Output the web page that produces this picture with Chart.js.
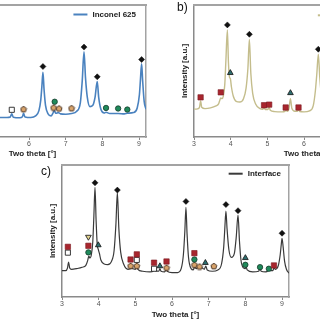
<!DOCTYPE html>
<html>
<head>
<meta charset="utf-8">
<script src="https://cdn.jsdelivr.net/npm/chart.js@4.4.1/dist/chart.umd.min.js"></script>
<style>
  html, body { margin: 0; padding: 0; background: #fff; }
  #wrap { position: relative; width: 320px; height: 320px; overflow: hidden; background: #fff; }
  canvas { position: absolute; }
  .lbl { position: absolute; font-family: "Liberation Sans", Arial, sans-serif; font-size: 12px; color: #111; line-height: 12px; }
</style>
</head>
<body>
<div id="wrap">
  <canvas id="ca" width="320" height="160" style="left:-143px; top:0px; width:320px; height:160px;"></canvas>
  <canvas id="cb" width="320" height="160" style="left:132px; top:0px; width:320px; height:160px;"></canvas>
  <canvas id="cc" width="320" height="160" style="left:0px; top:160px; width:320px; height:160px;"></canvas>
  <div class="lbl" style="left:177px; top:1px;">b)</div>
  <div class="lbl" style="left:41px; top:165px;">c)</div>
</div>
<script>
// ---------- DATA ----------
const xTicks = [3, 4, 5, 6, 7, 8, 9];
const seriesLabels = ['Inconel 625', '316L stainless steel', 'Interface'];

// Panel a (Inconel 625) trace, visible part
const aX = [5.10, 5.20, 5.40, 5.49, 5.53, 5.57, 5.75, 5.82, 5.85, 5.89, 6.05, 6.18, 6.27, 6.32, 6.35, 6.38, 6.41, 6.45, 6.52, 6.60, 6.66, 6.69, 6.73, 6.80, 6.86, 7.00, 7.16, 7.30, 7.40, 7.45, 7.50, 7.54, 7.59, 7.66, 7.74, 7.80, 7.86, 7.90, 7.96, 8.05, 8.10, 8.20, 8.43, 8.60, 8.68, 8.85, 8.95, 9.01, 9.04, 9.07, 9.10, 9.14, 9.19];
const aY = [15.0, 14.8, 14.8, 15.2, 17.6, 15.0, 14.6, 15.3, 17.9, 15.2, 14.8, 16.0, 20.0, 28.0, 38.0, 49.0, 36.0, 24.0, 17.5, 16.0, 18.5, 20.0, 18.0, 18.5, 17.5, 17.2, 17.8, 19.5, 26.0, 42.0, 64.5, 45.0, 30.0, 23.0, 24.0, 30.0, 42.0, 30.0, 21.0, 18.2, 18.8, 17.8, 17.8, 17.5, 18.0, 18.5, 22.0, 32.0, 44.0, 55.4, 42.0, 27.0, 21.0];

// Panel b trace, visible part
const bX = [3.00, 3.10, 3.15, 3.18, 3.21, 3.30, 3.45, 3.60, 3.67, 3.70, 3.73, 3.76, 3.80, 3.84, 3.87, 3.91, 3.94, 3.97, 3.99, 4.02, 4.07, 4.15, 4.25, 4.35, 4.42, 4.47, 4.51, 4.55, 4.60, 4.68, 4.80, 4.88, 4.91, 4.94, 5.01, 5.05, 5.08, 5.20, 5.40, 5.48, 5.51, 5.54, 5.59, 5.63, 5.67, 5.75, 5.82, 5.85, 5.88, 6.00, 6.15, 6.25, 6.31, 6.35, 6.39, 6.43, 6.48, 6.55, 6.62];
const bY = [21.1, 21.3, 22.5, 27.2, 22.5, 21.5, 22.0, 23.5, 25.0, 27.5, 29.6, 29.0, 31.0, 40.0, 58.0, 81.0, 56.0, 45.0, 44.3, 38.0, 31.0, 27.0, 26.5, 29.0, 37.0, 52.0, 73.8, 48.0, 33.0, 25.0, 21.5, 21.0, 22.5, 20.8, 20.8, 22.5, 20.2, 19.2, 19.0, 19.4, 21.0, 19.4, 21.5, 29.0, 21.5, 19.5, 19.5, 21.0, 19.3, 19.0, 19.8, 23.5, 35.0, 48.0, 62.7, 45.0, 30.0, 22.0, 20.0];

// Panel c (Interface) trace
const cX = [3.00, 3.10, 3.15, 3.18, 3.21, 3.26, 3.40, 3.55, 3.65, 3.70, 3.73, 3.76, 3.80, 3.84, 3.87, 3.90, 3.93, 3.96, 3.99, 4.02, 4.06, 4.15, 4.25, 4.35, 4.42, 4.47, 4.51, 4.55, 4.60, 4.68, 4.80, 4.88, 4.90, 4.92, 5.00, 5.04, 5.07, 5.20, 5.40, 5.50, 5.53, 5.56, 5.64, 5.67, 5.70, 5.80, 5.84, 5.87, 6.00, 6.15, 6.25, 6.31, 6.35, 6.38, 6.41, 6.45, 6.52, 6.58, 6.62, 6.66, 6.72, 6.78, 6.82, 6.88, 6.92, 6.96, 7.10, 7.25, 7.35, 7.41, 7.44, 7.47, 7.50, 7.55, 7.62, 7.70, 7.75, 7.80, 7.84, 7.88, 7.95, 8.00, 8.02, 8.05, 8.20, 8.36, 8.40, 8.43, 8.55, 8.62, 8.65, 8.68, 8.75, 8.78, 8.82, 8.90, 8.95, 8.98, 9.00, 9.03, 9.07, 9.12, 9.19];
const cY = [20.0, 20.0, 22.0, 26.5, 22.0, 21.0, 21.5, 22.5, 24.0, 27.5, 31.0, 29.5, 32.0, 42.0, 62.0, 83.0, 58.0, 40.0, 36.0, 33.0, 28.0, 25.0, 24.5, 27.0, 35.0, 55.0, 79.0, 52.0, 34.0, 25.0, 21.0, 21.5, 23.0, 21.5, 21.0, 23.5, 21.0, 19.5, 19.0, 20.0, 22.0, 19.8, 19.5, 21.5, 19.5, 19.0, 21.0, 19.5, 18.5, 18.5, 21.5, 32.0, 50.0, 68.0, 48.0, 30.0, 21.5, 20.5, 23.0, 21.5, 22.5, 21.5, 22.0, 21.0, 23.5, 20.5, 19.5, 20.5, 25.0, 38.0, 52.0, 65.0, 52.0, 36.0, 30.0, 33.0, 45.0, 62.0, 42.0, 28.0, 22.0, 21.5, 23.0, 20.5, 19.0, 19.5, 21.5, 19.5, 19.0, 20.0, 21.5, 20.0, 20.0, 22.0, 21.0, 24.0, 32.0, 40.0, 44.5, 38.0, 27.0, 21.0, 18.0];

// Phase markers [two theta, intensity]
const aDiamonds = [[6.38, 53.4], [7.50, 68.1], [7.86, 45.6], [9.07, 58.7]];
const aWhiteSquares = [[5.53, 20.6]];
const aPentagons = [[5.85, 21.1], [6.67, 22.3], [6.82, 21.6], [7.16, 21.8]];
const aCircles = [[6.70, 26.7], [8.10, 22.0], [8.43, 21.6], [8.68, 20.8]];

const bDiamonds = [[3.91, 84.8], [4.51, 77.7], [6.39, 66.4]];
const bRedSquares = [[3.18, 30.0], [3.73, 33.8], [4.91, 24.0], [5.05, 24.5], [5.50, 22.3], [5.85, 22.3]];
const bTriangles = [[3.99, 48.5], [5.63, 33.3]];

const cDiamonds = [[3.90, 86.5], [4.51, 81.0], [6.38, 72.4], [7.47, 70.0], [7.80, 65.4], [9.00, 48.3]];
const cRedSquares = [[3.16, 38.0], [3.72, 38.8], [4.87, 28.4], [5.04, 32.3], [5.51, 26.0], [5.85, 26.9], [6.61, 33.2], [8.78, 23.9]];
const cWhiteSquares = [[3.16, 33.6], [5.04, 28.1], [5.51, 21.4]];
const cCircles = [[3.72, 33.8], [6.61, 28.4], [8.00, 24.4], [8.40, 22.6], [8.64, 21.4]];
const cPentagons = [[4.87, 23.6], [5.04, 23.6], [5.85, 22.2], [6.61, 24.4], [6.75, 23.1], [7.14, 23.4]];
const cTriangles = [[3.99, 39.3], [5.67, 23.4], [6.91, 25.9], [8.00, 29.6]];
const cInvTriangles = [[3.72, 45.5]];

// ---------- STYLES ----------
const FONT = '"Liberation Sans", Arial, sans-serif';
const AXIS = '#8a8a8a';
const FRAME = '#a3a3a3';

function makePentagon() {
  const c = document.createElement('canvas');
  c.width = 8; c.height = 8;
  const g = c.getContext('2d');
  g.beginPath();
  for (let i = 0; i < 5; i++) {
    const a = -Math.PI / 2 + i * 2 * Math.PI / 5;
    g.lineTo(4 + 3.1 * Math.cos(a), 4.3 + 3.1 * Math.sin(a));
  }
  g.closePath();
  g.fillStyle = '#d9a46b';
  g.fill();
  g.strokeStyle = '#4a3322';
  g.lineWidth = 1;
  g.stroke();
  return c;
}
const pentagonImg = makePentagon();

const STY = {
  diamond: { pointStyle: 'rectRot', pointRadius: 3, backgroundColor: '#111', borderColor: '#111', borderWidth: 0.5 },
  red: { pointStyle: 'rect', pointRadius: 3.8, backgroundColor: '#a8262e', borderColor: '#7a1a20', borderWidth: 0.6 },
  white: { pointStyle: 'rect', pointRadius: 3.6, backgroundColor: '#ffffff', borderColor: '#222', borderWidth: 0.9 },
  circle: { pointStyle: 'circle', pointRadius: 2.7, backgroundColor: '#1f8a5b', borderColor: '#163a2b', borderWidth: 0.8 },
  pentagon: { pointStyle: pentagonImg, pointRadius: 3 },
  triangle: { pointStyle: 'triangle', pointRadius: 3.3, backgroundColor: '#2f6f70', borderColor: '#111', borderWidth: 0.8 },
  inv: { pointStyle: 'triangle', pointRotation: 180, pointRadius: 3.3, backgroundColor: '#e3d48f', borderColor: '#222', borderWidth: 0.9 }
};

function markers(pts, style) {
  return Object.assign({ type: 'scatter', data: pts.map(p => ({ x: p[0], y: p[1] })), showLine: false, order: 0, label: '' }, style);
}
function trace(xs, ys, label, color, width) {
  return { type: 'line', label: label, data: xs.map((x, i) => ({ x: x, y: ys[i] })), borderColor: color, borderWidth: width,
    pointRadius: 0, fill: false, cubicInterpolationMode: 'monotone', order: 10 };
}

const cornerLegend = {
  id: 'cornerLegend',
  afterDraw(chart, args, opts) {
    const ds = chart.data.datasets.find(d => d.type === 'line');
    const { ctx, chartArea } = chart;
    ctx.save();
    ctx.font = 'bold 8px ' + FONT;
    const w = ctx.measureText(ds.label).width;
    const xEnd = chartArea.right - opts.right;
    const y = chartArea.top + opts.top;
    ctx.fillStyle = '#222';
    ctx.textAlign = 'right';
    ctx.textBaseline = 'middle';
    ctx.fillText(ds.label, xEnd, y);
    const lx = xEnd - w - 5;
    ctx.strokeStyle = ds.borderColor;
    ctx.lineWidth = 2;
    ctx.beginPath();
    ctx.moveTo(lx - 14, y);
    ctx.lineTo(lx, y);
    ctx.stroke();
    ctx.restore();
  }
};

function makeChart(id, datasets, topPad, titleBottom, legendPos) {
  return new Chart(document.getElementById(id), {
    data: { datasets: datasets },
    plugins: [cornerLegend],
    options: {
      responsive: false, animation: false, devicePixelRatio: 1, events: [],
      layout: { padding: { left: 0, right: 31, top: topPad, bottom: 0 } },
      plugins: { legend: { display: false }, tooltip: { enabled: false }, cornerLegend: legendPos },
      scales: {
        x: {
          type: 'linear', position: 'bottom', min: 3, max: 9.19,
          afterBuildTicks: s => { s.ticks = xTicks.map(v => ({ value: v })); },
          ticks: { font: { size: 7, family: FONT }, color: '#555', padding: 0, maxRotation: 0, autoSkip: false },
          grid: { display: true, drawOnChartArea: false, drawTicks: true, tickLength: 3, color: AXIS, tickColor: AXIS },
          border: { display: true, color: AXIS, width: 1.5 },
          title: { display: true, text: 'Two theta [°]', color: '#222', font: { size: 8, weight: 'bold', family: FONT }, padding: { top: 0, bottom: titleBottom } },
          afterFit: s => { s.height = 23; }
        },
        y: {
          type: 'linear', position: 'left', min: 0, max: 100,
          ticks: { display: false }, grid: { display: false },
          border: { display: true, color: AXIS, width: 1.5 },
          title: { display: true, text: 'Intensity [a.u.]', color: '#222', font: { size: 8, weight: 'bold', family: FONT }, padding: { top: 48, bottom: 0 } },
          afterFit: s => { s.width = 62; }
        },
        xTop: {
          type: 'linear', position: 'top', display: true,
          ticks: { display: false }, grid: { display: false },
          border: { display: true, color: FRAME, width: 2 },
          afterFit: s => { s.height = 0; }
        },
        yRight: {
          type: 'linear', position: 'right', display: true,
          ticks: { display: false }, grid: { display: false },
          border: { display: true, color: FRAME, width: 1.5 },
          afterFit: s => { s.width = 0; }
        }
      }
    }
  });
}

makeChart('ca', [
  markers(aDiamonds, STY.diamond),
  markers(aWhiteSquares, STY.white),
  markers(aPentagons, STY.pentagon),
  markers(aCircles, STY.circle),
  trace(aX, aY, seriesLabels[0], '#4a82bf', 1.6)
], 1, 1.9, { right: 10, top: 9.5 });

makeChart('cb', [
  markers(bDiamonds, STY.diamond),
  markers(bRedSquares, STY.red),
  markers(bTriangles, STY.triangle),
  trace(bX, bY, seriesLabels[1], '#c4bd8c', 1.4)
], 1, 1.9, { right: 9, top: 10.5 });

makeChart('cc', [
  markers(cDiamonds, STY.diamond),
  markers(cInvTriangles, STY.inv),
  markers(cRedSquares, STY.red),
  markers(cWhiteSquares, STY.white),
  markers(cCircles, STY.circle),
  markers(cPentagons, STY.pentagon),
  markers(cTriangles, STY.triangle),
  trace(cX, cY, seriesLabels[2], '#3a3a3a', 1.2)
], 3, 0.2, { right: 8, top: 8.7 });
</script>
</body>
</html>
